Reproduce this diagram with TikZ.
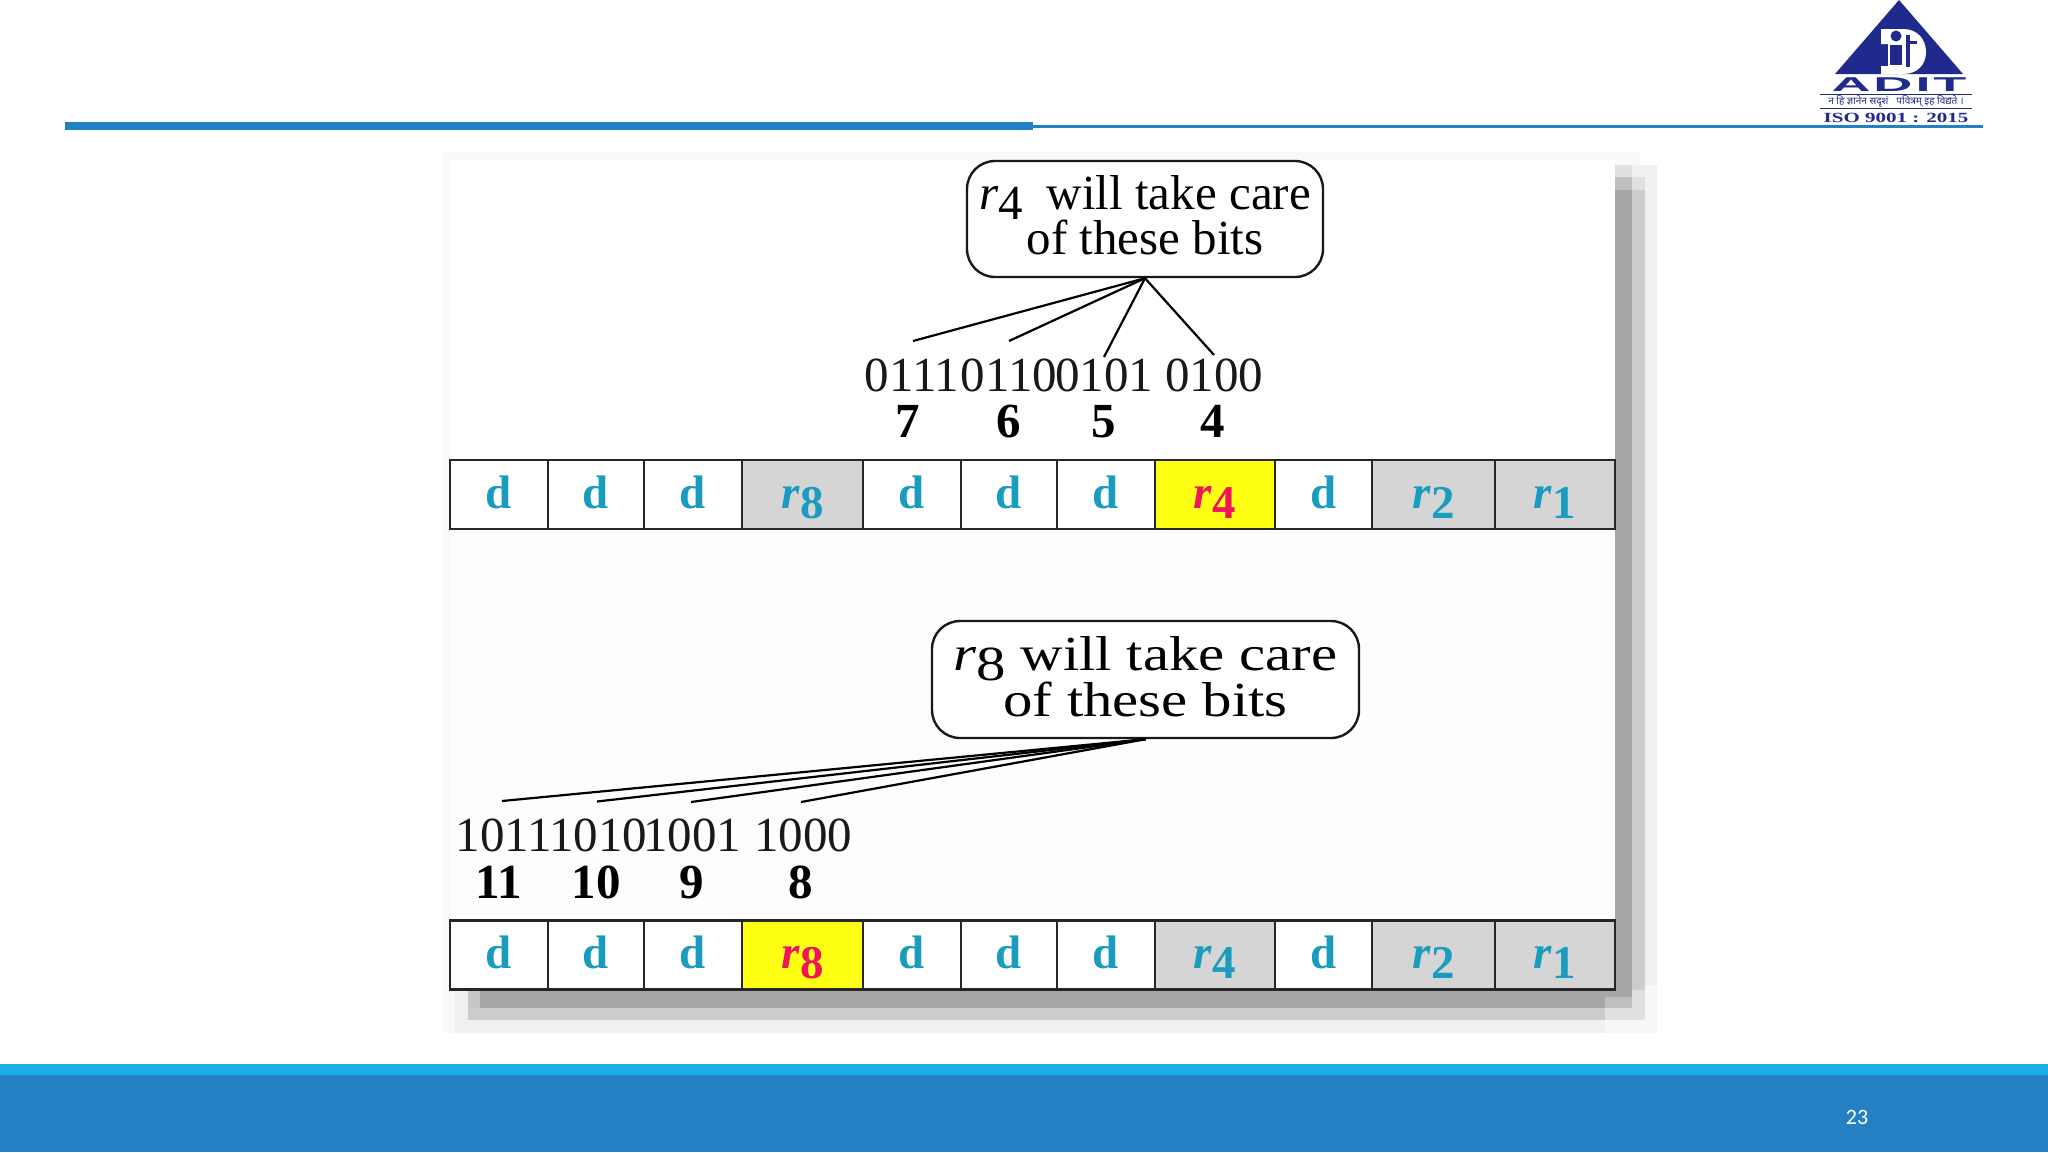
\documentclass[tikz,border=0pt]{standalone}
\usepackage{fontspec}
\setmainfont{Liberation Serif}
\newfontfamily\widefont[FakeStretch=1.2]{Liberation Serif}
\newfontfamily\logoA[FakeStretch=2.7]{Liberation Sans}
\newfontfamily\logoB[FakeStretch=1.5]{Liberation Serif}
\newfontfamily\devfont[Script=Devanagari]{Noto Sans}
\newfontfamily\pagefont{Carlito}
\usetikzlibrary{shapes.misc}
\definecolor{barblue}{HTML}{2280C4}
\definecolor{footlight}{HTML}{1AADE8}
\definecolor{footdark}{HTML}{2580C3}
\definecolor{tealtxt}{HTML}{1A9CBF}
\definecolor{redtxt}{HTML}{F0145A}
\definecolor{yellowcell}{HTML}{FFFF14}
\definecolor{graycell}{HTML}{D5D5D5}
\definecolor{navy}{HTML}{1F2A8C}
\definecolor{tintbg}{HTML}{FDFDFE}
\newcommand\sz[1]{\fontsize{#1}{#1}\selectfont}
\newcommand\lowd[1]{\raisebox{-5pt}{#1}}
\newcommand\mycell[6]{%
  \pgfmathsetmacro\cw{(#3-#2)/2}%
  \pgfmathsetmacro\cx{(#2+#3)/2}%
  \node[cellbox,#5,minimum width=\cw pt] (#1) at (\cx,#4) {#6};}
\tikzset{
  x=0.5pt,y=-0.5pt,
  cellbox/.style={draw=black!85,line width=1.4pt,minimum height=34.5pt,inner sep=0pt,
    text height=13.5pt,text depth=0pt,font=\sz{23.5pt}\bfseries,text=tealtxt},
  plain/.style={fill=white},
  grayc/.style={fill=graycell},
  hot/.style={fill=yellowcell,text=redtxt},
  callout/.style={draw=black!90,line width=1.2pt,rounded corners=14pt,fill=white,inner sep=0pt,align=center},
  bits/.style={anchor=base,inner sep=0pt,font=\sz{24.5pt},text=black!90},
  num/.style={anchor=base,inner sep=0pt,font=\sz{24.5pt}\bfseries,text=black},
  link/.style={line width=1.1pt,draw=black}
}
\begin{document}
\begin{tikzpicture}
\useasboundingbox (0,0) rectangle (2048,1152);
\fill[white] (0,0) rectangle (2048,1152);
% header rule
\fill[barblue] (65,122) rectangle (1033,130);
\fill[barblue] (1033,125) rectangle (1983,128);
% footer
\fill[footdark] (0,1075) rectangle (2048,1152);
\fill[footlight] (0,1064) rectangle (2048,1074.5);
\node[text=white,font=\sz{11pt}\pagefont,inner sep=0pt] (pageno) at (1857,1117) {23};
% picture surround and shadow
\fill[black!2.5] (442,152) rectangle (1640,1033);
\fill[black!6] (1632,165) rectangle (1657,1033);
\fill[black!6] (455,1008) rectangle (1657,1033);
\fill[black!12] (1632,177) rectangle (1645,190);
\fill[black!20] (1632,190) rectangle (1645,1020);
\fill[black!20] (468,1008) rectangle (1645,1020);
\fill[black!12] (1615,165) rectangle (1632,177);
\fill[black!25] (1615,177) rectangle (1632,190);
\fill[black!35] (1615,190) rectangle (1632,1008);
\fill[black!6] (455,989) rectangle (468,1008);
\fill[black!22] (468,989) rectangle (480,1008);
\fill[black!35] (480,989) rectangle (1632,1008);
\fill[black!25] (1605,997) rectangle (1632,1008);
\fill[black!12] (1605,1008) rectangle (1645,1020);
\fill[black!3] (1605,1020) rectangle (1657,1033);
\fill[black!12] (1632,990) rectangle (1645,1008);
\fill[black!3] (1645,985) rectangle (1657,1033);
\fill[white] (450,160) rectangle (1615,989);
\fill[tintbg] (450,530) rectangle (1615,920);
% top row
\mycell{t11}{450}{548}{494.5}{plain}{d}
\mycell{t10}{548}{644}{494.5}{plain}{d}
\mycell{t9}{644}{742}{494.5}{plain}{d}
\mycell{t8}{742}{863}{494.5}{grayc}{\textit{r}\lowd{8}}
\mycell{t7}{863}{961}{494.5}{plain}{d}
\mycell{t6}{961}{1057}{494.5}{plain}{d}
\mycell{t5}{1057}{1155}{494.5}{plain}{d}
\mycell{t4}{1155}{1275}{494.5}{hot}{\textit{r}\lowd{4}}
\mycell{t3}{1275}{1372}{494.5}{plain}{d}
\mycell{t2}{1372}{1495}{494.5}{grayc}{\textit{r}\lowd{2}}
\mycell{t1}{1495}{1615}{494.5}{grayc}{\textit{r}\lowd{1}}
% bottom row
\mycell{b11}{450}{548}{955}{plain}{d}
\mycell{b10}{548}{644}{955}{plain}{d}
\mycell{b9}{644}{742}{955}{plain}{d}
\mycell{b8}{742}{863}{955}{hot}{\textit{r}\lowd{8}}
\mycell{b7}{863}{961}{955}{plain}{d}
\mycell{b6}{961}{1057}{955}{plain}{d}
\mycell{b5}{1057}{1155}{955}{plain}{d}
\mycell{b4}{1155}{1275}{955}{grayc}{\textit{r}\lowd{4}}
\mycell{b3}{1275}{1372}{955}{plain}{d}
\mycell{b2}{1372}{1495}{955}{grayc}{\textit{r}\lowd{2}}
\mycell{b1}{1495}{1615}{955}{grayc}{\textit{r}\lowd{1}}
% callouts
\node[callout,font=\fontsize{24.5pt}{22.5pt}\selectfont,minimum width=178pt,minimum height=58pt] (c1) at (1145,219)
  {\textit{r}\lowd{4}\hspace{12pt}will take care\\of these bits\rule[-4pt]{0pt}{4pt}};
\node[callout,font=\widefont\fontsize{24.5pt}{23pt}\selectfont,minimum width=213.5pt,minimum height=58.5pt] (c2) at (1145.5,679.5)
  {\textit{r}\lowd{8} will take care\\of these bits\rule[-3pt]{0pt}{3pt}};
% bit labels, top
\node[bits] (w7) at (912,391) {0111};
\node[bits] (w6) at (1009,391) {0110};
\node[bits] (w5) at (1104,391) {0101};
\node[bits] (w4) at (1214,391) {0100};
\node[num] (n7) at (908,437) {7};
\node[num] (n6) at (1009,437) {6};
\node[num] (n5) at (1104,437) {5};
\node[num] (n4) at (1213,437) {4};
% bit labels, bottom
\node[bits] (x11) at (504,851) {1011};
\node[bits] (x10) at (598,851) {1010};
\node[bits] (x9) at (692,851) {1001};
\node[bits] (x8) at (803,851) {1000};
\node[num] (m11) at (499,898) {11};
\node[num] (m10) at (596,898) {10};
\node[num] (m9) at (692,898) {9};
\node[num] (m8) at (801,898) {8};
% connector ends
\coordinate (e7) at (913,341);
\coordinate (e6) at (1009,341);
\coordinate (e5) at (1104,357);
\coordinate (e4) at (1214,355);
\coordinate (f11) at (502,801);
\coordinate (f10) at (597,801.5);
\coordinate (f9) at (691,802);
\coordinate (f8) at (801,802);
\foreach \e in {e7,e6,e5,e4} \draw[link] (c1.south) -- (\e);
\foreach \e in {f11,f10,f9,f8} \draw[link] (c2.south) -- (\e);
% logo
\fill[navy] (1899,0) -- (1963,74) -- (1835,74) -- cycle;
\fill[white] (1881,29) -- (1903,29) .. controls (1918,29) and (1926,40) .. (1926,52)
  .. controls (1926,64) and (1918,74) .. (1903,74) -- (1881,74) -- (1881,66) -- (1888,66)
  -- (1888,44) -- (1881,44) -- cycle;
\fill[navy] (1890,45) rectangle (1902,65);
\fill[navy] (1896,36) circle (5.5);
\fill[navy] (1906,35) rectangle (1910,67);
\fill[navy] (1906,41) rectangle (1917,44);
\node[text=navy,font=\sz{10pt}\logoA\bfseries,inner sep=0pt,anchor=base] (adit) at (1899,91) {A\hspace{1.5pt}D\hspace{1.5pt}I\hspace{1.5pt}T};
\draw[navy,line width=0.5pt] (1820,94) -- (1972,94);
\draw[navy,line width=0.5pt] (1820,108) -- (1972,108);
\node[text=navy,font=\sz{5pt}\devfont,inner sep=0pt] (motto) at (1896,101) {न हि ज्ञानेन सदृशं\hspace{4pt}पवित्रम् इह विद्यते ।};
\node[text=navy,font=\sz{7pt}\logoB\bfseries,inner sep=0pt,anchor=base] (iso) at (1896,122) {ISO 9001 : 2015};
\end{tikzpicture}
\end{document}
